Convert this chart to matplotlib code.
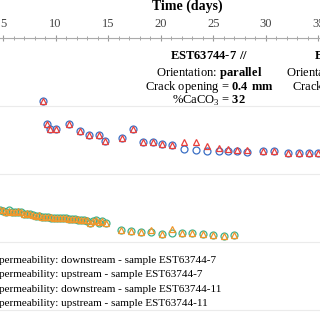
import matplotlib
matplotlib.use("Agg")
import matplotlib.pyplot as plt

plt.rcParams['font.family'] = ['Liberation Serif', 'DejaVu Serif']
plt.rcParams['mathtext.fontset'] = 'custom'
plt.rcParams['mathtext.rm'] = 'Liberation Serif'
plt.rcParams['mathtext.bf'] = 'Liberation Serif:bold'

# sample EST63744-7 (permeability in m2)
t_7 = [8.8, 9.2, 9.5, 10.0, 11.3, 12.3, 13.2, 14.1, 14.7, 16.3, 17.4, 18.3, 19.3, 20.1,
       21.1, 22.2, 23.4, 24.4, 25.5, 26.4, 27.3, 28.2, 29.7, 30.8, 32.1, 33.2, 34.1, 35.0]
k_down_7 = [11.73e-17, 5.26e-17, 4.48e-17, 4.48e-17, 5.26e-17, 4.19e-17, 3.66e-17, 3.66e-17,
            3.03e-17, 3.35e-17, 4.48e-17, 2.93e-17, 2.93e-17, 2.76e-17, 2.61e-17, 2.33e-17,
            2.25e-17, 2.11e-17, 2.11e-17, 2.11e-17, 2.11e-17, 2.04e-17, 2.11e-17, 2.11e-17,
            1.97e-17, 1.97e-17, 1.97e-17, 1.97e-17]
k_up_7 = [11.73e-17, 5.26e-17, 4.48e-17, 4.48e-17, 5.26e-17, 4.19e-17, 3.66e-17, 3.66e-17,
          3.03e-17, 3.35e-17, 4.48e-17, 2.93e-17, 2.93e-17, 2.76e-17, 2.61e-17, 2.93e-17,
          2.86e-17, 2.50e-17, 2.41e-17, 2.33e-17, 2.18e-17, 2.18e-17, 2.11e-17, 2.11e-17,
          1.97e-17, 1.97e-17, 1.97e-17, 1.97e-17]

# sample EST63744-11
t_11 = [4.71, 5.00, 5.29, 5.57, 5.86, 6.14, 6.43, 6.71, 7.00, 7.29, 7.57, 7.86, 8.14, 8.43,
        8.71, 9.00, 9.29, 9.57, 9.86, 10.14, 10.43, 10.71, 11.00, 11.29, 11.57, 11.86, 12.14,
        12.43, 12.71, 13.00, 13.29, 13.57, 13.86, 14.14, 14.43, 14.81,
        16.21, 17.19, 18.14, 19.10, 20.11, 21.07, 22.02, 23.00, 24.02, 25.00, 25.98, 26.93]
k_down_11 = [2.86e-18, 2.81e-18, 2.76e-18, 2.86e-18, 2.76e-18, 2.72e-18, 2.76e-18, 2.67e-18,
             2.58e-18, 2.58e-18, 2.50e-18, 2.45e-18, 2.41e-18, 2.41e-18, 2.33e-18, 2.33e-18,
             2.29e-18, 2.25e-18, 2.25e-18, 2.18e-18, 2.18e-18, 2.22e-18, 2.18e-18, 2.11e-18,
             2.14e-18, 2.11e-18, 2.07e-18, 2.04e-18, 2.04e-18, 1.97e-18, 1.90e-18, 1.97e-18,
             2.04e-18, 1.90e-18, 1.97e-18, 1.90e-18,
             1.47e-18, 1.42e-18, 1.39e-18, 1.39e-18, 1.31e-18, 1.34e-18, 1.34e-18, 1.34e-18,
             1.27e-18, 1.24e-18, 1.21e-18, 1.24e-18]
k_up_11 = [2.86e-18, 2.86e-18, 2.76e-18, 2.81e-18, 2.76e-18, 2.72e-18, 2.81e-18, 2.67e-18,
           2.58e-18, 2.62e-18, 2.50e-18, 2.45e-18, 2.41e-18, 2.45e-18, 2.33e-18, 2.33e-18,
           2.29e-18, 2.29e-18, 2.25e-18, 2.18e-18, 2.22e-18, 2.22e-18, 2.18e-18, 2.11e-18,
           2.11e-18, 2.11e-18, 2.11e-18, 2.07e-18, 2.04e-18, 2.04e-18, 1.90e-18, 2.00e-18,
           2.04e-18, 1.93e-18, 1.97e-18, 1.90e-18,
           1.47e-18, 1.42e-18, 1.39e-18, 1.48e-18, 1.31e-18, 1.53e-18, 1.34e-18, 1.34e-18,
           1.27e-18, 1.24e-18, 1.21e-18, 1.24e-18]

labels = ["Gas permeability: downstream - sample EST63744-7",
          "Gas permeability: upstream - sample EST63744-7",
          "Gas permeability: downstream - sample EST63744-11",
          "Gas permeability: upstream - sample EST63744-11"]

W = 320.0
fig = plt.figure(figsize=(3.2, 3.2), dpi=100)
# axes run past the picture edges: the chart is a crop of a wider figure
ax = fig.add_axes([-49.5 / W, 1 - 377.5 / W, 473 / W, 340 / W])

ms = 5.0
ax.plot(t_7, k_down_7, 'o', mfc='none', mec='#3b6fc4', mew=0.9, ms=ms, label=labels[0])
ax.plot(t_7, k_up_7, '^', mfc='none', mec='#e8403c', mew=0.9, ms=ms - 0.8, label=labels[1])
ax.plot(t_11, k_down_11, 'o', mfc='none', mec='#3faf8a', mew=0.9, ms=ms, label=labels[2])
ax.plot(t_11, k_up_11, '^', mfc='none', mec='#f0962a', mew=0.9, ms=ms - 0.8, label=labels[3])

ax.set_yscale('log')
ax.set_ylim(1e-20, 1e-15)
ax.set_xlim(0, 45)
ax.grid(True, axis='y', which='major', color='#ebebeb', lw=0.8)
ax.set_axisbelow(True)

ax.xaxis.tick_top()
ax.xaxis.set_label_position('top')
ax.set_xticks(range(0, 46, 5))
ax.set_xticks(range(0, 46, 1), minor=True)
ax.tick_params(axis='x', which='major', direction='inout', length=4, color='#999999',
               labelsize=9, pad=3.5, labelcolor='#444444')
ax.tick_params(axis='x', which='minor', direction='inout', length=2.5, color='#999999')
ax.tick_params(axis='y', which='both', left=False, labelleft=False)
ax.set_xlabel('Time (days)', fontsize=10, fontweight='bold', labelpad=5.5)
for s in ['left', 'right', 'bottom']:
    ax.spines[s].set_visible(False)
ax.spines['top'].set_color('#aaaaaa')
ax.spines['top'].set_linewidth(0.8)

# annotation boxes
fs = 9
def note(cx, lines):
    ys = [56, 73, 87, 101]
    for y, txt in zip(ys, lines):
        fig.text(cx / W, 1 - y / W, txt, ha='center', va='center', fontsize=fs)

note(209, [r"$\bf{EST63744\text{-}7\ //}$", r"Orientation: $\bf{parallel}$",
           r"Crack opening = $\bf{0.4\ mm}$", r"%CaCO$_3$ = $\bf{32}$"])
note(356, [r"$\bf{EST63744\text{-}11\ //}$", r"Orientation: $\bf{perpendicular}$",
           r"Crack opening = $\bf{0.4\ mm}$", r"%CaCO$_3$ = $\bf{32}$"])

fig.legend(loc='upper left', bbox_to_anchor=(-62 / W, 1 - 245 / W), frameon=False,
           fontsize=8.0, labelspacing=0.42, handlelength=2.0, handletextpad=0.8,
           borderaxespad=0.5, borderpad=0.4)

fig.savefig('out.png', dpi=100)
